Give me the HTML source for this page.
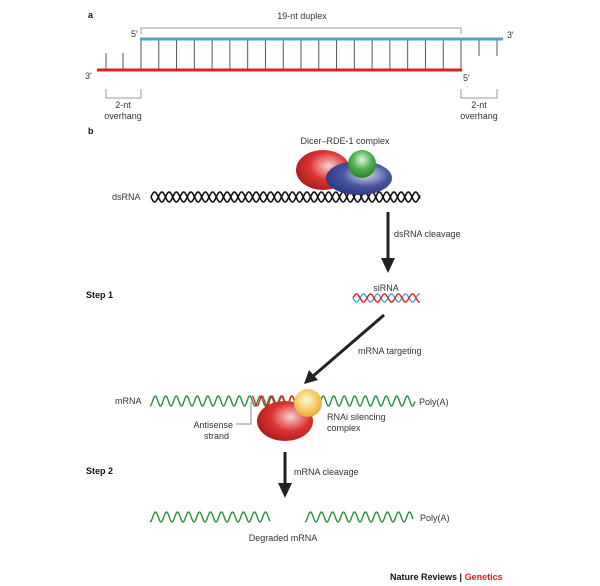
<!DOCTYPE html>
<html><head><meta charset="utf-8"><style>
html,body{margin:0;padding:0;background:#fff;}
svg{display:block;}
text{font-family:"Liberation Sans",sans-serif;font-size:9px;fill:#333;}
.b{font-weight:bold;fill:#111;}
</style></head><body>
<svg id="s" width="600" height="586" viewBox="0 0 600 586">
<defs>
<radialGradient id="gr" cx="0.6" cy="0.4" r="0.7"><stop offset="0" stop-color="#f6d0d0"/><stop offset="0.5" stop-color="#d33"/><stop offset="1" stop-color="#a01818"/></radialGradient>
<radialGradient id="gb" cx="0.6" cy="0.4" r="0.7"><stop offset="0" stop-color="#d8dcf0"/><stop offset="0.5" stop-color="#4a55a0"/><stop offset="1" stop-color="#263080"/></radialGradient>
<radialGradient id="gg" cx="0.5" cy="0.35" r="0.7"><stop offset="0" stop-color="#e0f5e0"/><stop offset="0.5" stop-color="#4fb04f"/><stop offset="1" stop-color="#237a23"/></radialGradient>
<radialGradient id="gy" cx="0.45" cy="0.4" r="0.7"><stop offset="0" stop-color="#fff6e0"/><stop offset="0.5" stop-color="#f6cf6a"/><stop offset="1" stop-color="#d8a020"/></radialGradient>
</defs>
<text class="b" x="88" y="18">a</text>
<text x="302" y="19" text-anchor="middle">19-nt duplex</text>
<path d="M141 34V28H461V34" fill="none" stroke="#999" stroke-width="1"/>
<g id="ticks" stroke="#555" stroke-width="1"></g>
<line x1="140" y1="39" x2="503" y2="39" stroke="#4aa7c3" stroke-width="3"/>
<line x1="97" y1="70" x2="462" y2="70" stroke="#e02020" stroke-width="3"/>
<text x="131" y="37" font-size="10">5′</text>
<text x="507" y="38" font-size="10">3′</text>
<text x="85" y="79" font-size="10">3′</text>
<text x="463" y="81" font-size="10">5′</text>
<path d="M106 89V98H141V89M461 89V98H497V89" fill="none" stroke="#999"/>
<text x="123" y="108" text-anchor="middle">2-nt</text>
<text x="123" y="119" text-anchor="middle">overhang</text>
<text x="479" y="108" text-anchor="middle">2-nt</text>
<text x="479" y="119" text-anchor="middle">overhang</text>
<text class="b" x="88" y="134">b</text>
<text x="345" y="144" text-anchor="middle">Dicer–RDE-1 complex</text>
<text x="112" y="200">dsRNA</text>
<g id="ds"></g>
<ellipse cx="323" cy="170" rx="27" ry="20" fill="url(#gr)"/>
<ellipse cx="359" cy="178" rx="33" ry="17" fill="url(#gb)"/>
<circle cx="362" cy="164" r="14" fill="url(#gg)"/>
<line x1="388" y1="212" x2="388" y2="260" stroke="#222" stroke-width="3"/>
<polygon points="381,258 395,258 388,273" fill="#222"/>
<text x="394" y="237">dsRNA cleavage</text>
<text class="b" x="86" y="298">Step 1</text>
<text x="386" y="291" text-anchor="middle">siRNA</text>
<g id="si"></g>
<line x1="384" y1="315" x2="312" y2="377" stroke="#222" stroke-width="3"/>
<polygon points="304,384 309,370 318,380" fill="#222"/>
<text x="358" y="354">mRNA targeting</text>
<text x="115" y="404">mRNA</text>
<g id="m"></g>
<text x="419" y="405">Poly(A)</text>
<ellipse cx="285" cy="421" rx="28" ry="20" fill="url(#gr)"/>
<circle cx="308" cy="403" r="14" fill="url(#gy)"/>
<path d="M236 424H251V402" fill="none" stroke="#888"/>
<text x="233" y="428" text-anchor="end">Antisense</text>
<text x="229" y="439" text-anchor="end">strand</text>
<text x="327" y="420">RNAi silencing</text>
<text x="327" y="431">complex</text>
<text class="b" x="86" y="474">Step 2</text>
<line x1="285" y1="452" x2="285" y2="485" stroke="#222" stroke-width="3"/>
<polygon points="278,483 292,483 285,498" fill="#222"/>
<text x="294" y="475">mRNA cleavage</text>
<g id="d"></g>
<text x="420" y="521">Poly(A)</text>
<text x="283" y="541" text-anchor="middle">Degraded mRNA</text>
<text class="b" x="390" y="580" font-size="9.5">Nature Reviews | <tspan fill="#e02020">Genetics</tspan></text>
</svg>
<script>
var NS="http://www.w3.org/2000/svg";
function el(p,t,a){var e=document.createElementNS(NS,t);for(var k in a)e.setAttribute(k,a[k]);document.getElementById(p).appendChild(e);}
for(var i=0;i<19;i++){var x=141+i*320/18;el("ticks","line",{x1:x,y1:39,x2:x,y2:70});}
[106,123].forEach(function(x){el("ticks","line",{x1:x,y1:53,x2:x,y2:70});});
[479,497].forEach(function(x){el("ticks","line",{x1:x,y1:39,x2:x,y2:56});});
function wave(p,x0,x1,y,a,per,ph,col,w){var d="";for(var x=x0;x<=x1;x+=0.5){var yy=y+a*Math.sin((x-x0)/per*2*Math.PI+ph);d+=(d?"L":"M")+x.toFixed(1)+" "+yy.toFixed(2);}el(p,"path",{d:d,fill:"none",stroke:col,"stroke-width":w});}
wave("ds",151,420,197,5,14.5,0,"#111",1.6);wave("ds",151,420,197,5,14.5,Math.PI,"#111",1.6);
wave("si",353,420,298,4,14,0,"#4aa7c3",1.4);wave("si",353,420,298,4,14,Math.PI,"#e02020",1.4);
wave("m",150,415,401,5,10.5,Math.PI/2,"#2a9040",1.4);
wave("m",252,313,401,5,10,-Math.PI/2,"#e02020",1.4);
wave("d",150,270,517,5,11,Math.PI/2,"#2a9040",1.4);
wave("d",305,413,517,5,11,Math.PI/2,"#2a9040",1.4);
</script>
</body></html>
